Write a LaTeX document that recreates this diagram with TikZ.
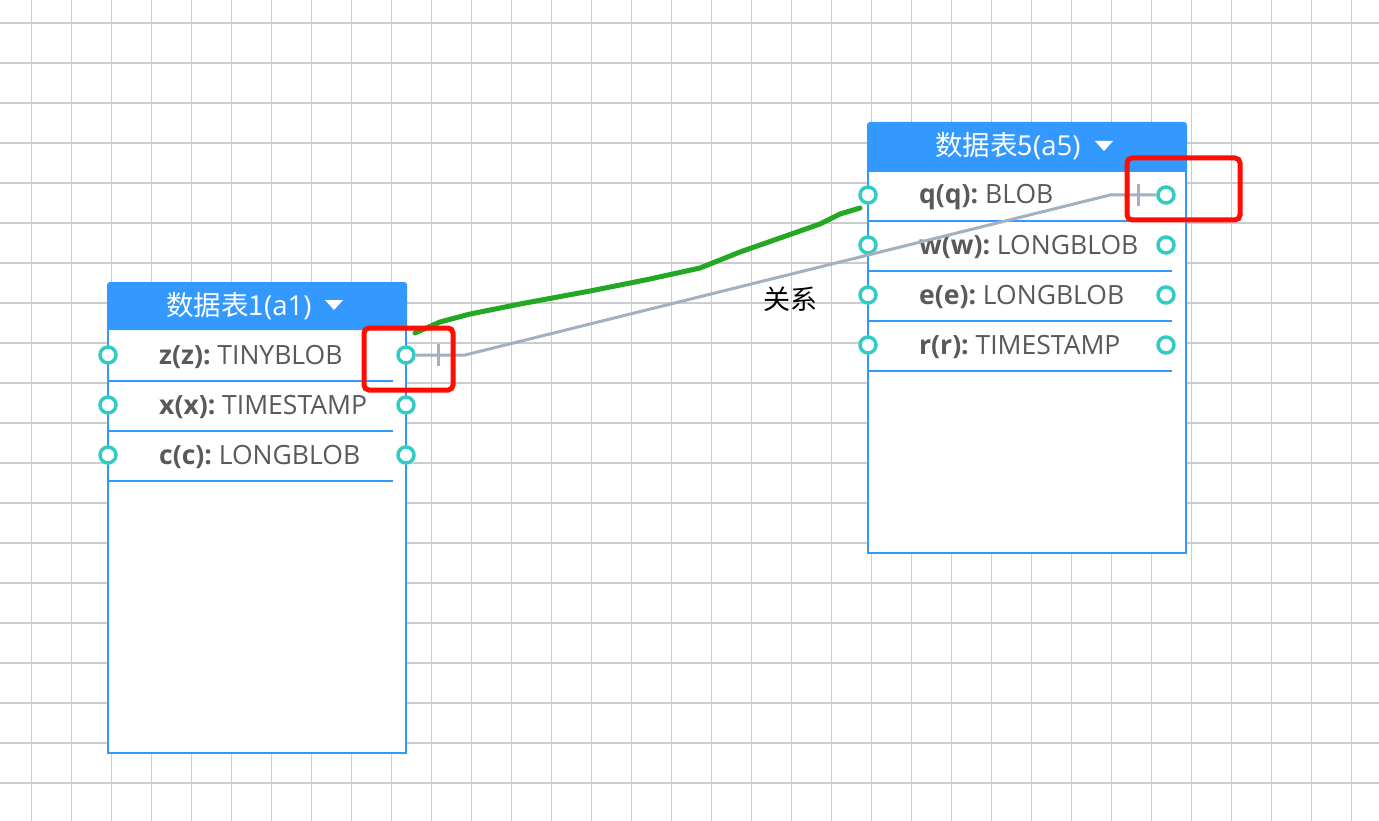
\documentclass[tikz,border=0pt]{standalone}
\usepackage{fontspec}
\setmainfont{Open Sans}
\newfontfamily\cjk{Noto Sans CJK SC}
\begin{document}
\begin{tikzpicture}[x=1pt,y=-1pt,
  fld/.style={anchor=west,inner sep=0pt,font=\fontsize{26.5}{28}\selectfont,text=black!65},
  port/.style={circle,draw=pc,line width=3.5pt,fill=white,minimum size=16pt,inner sep=0pt},
  hdr/.style={text=white,font=\fontsize{27.5}{30}\selectfont,inner sep=0pt},
  sep/.style={draw=hb,line width=1.5pt},
  tbl/.style={draw=hb,line width=1.5pt,fill=white},
  rel/.style={draw=rc,line width=3pt},
  hl/.style={draw=red!90!orange,line width=5pt,rounded corners=5pt}]
\definecolor{hb}{HTML}{3399FF}
\definecolor{pc}{HTML}{33CCC4}
\definecolor{rc}{HTML}{A3B0C2}
\definecolor{gc}{HTML}{22A822}
\useasboundingbox (0,0) rectangle (1379,821);
\fill[white] (0,0) rectangle (1379,821);
\foreach \x in {31.5,71.5,...,1379} \draw[black!20,line width=1.3pt] (\x,0)--(\x,821);
\foreach \y in {23,63,...,821} \draw[black!20,line width=1.3pt] (0,\y)--(1379,\y);
% table 1
\draw[tbl] (108,300) rectangle (406,753);
\fill[hb,rounded corners=3pt] (107,282) rectangle (407,330);
\fill[hb] (107,310) rectangle (407,330);
\node[hdr] (h1) at (239,306) {\cjk 数据表1\rmfamily(a1)};
\fill[white] (325,300)--(343,300)--(334,310)--cycle;
\foreach \y in {381,431,481} \draw[sep] (108,\y)--(393,\y);
\node[fld] (z) at (159,357) {\textbf{z(z):}\ TINYBLOB};
\node[fld] (x) at (159,407) {\textbf{x(x):}\ TIMESTAMP};
\node[fld] (c) at (159,457) {\textbf{c(c):}\ LONGBLOB};
\node[port] (pzl) at (108,355) {}; \node[port] (pzr) at (406,355) {};
\node[port] (pxl) at (108,405) {}; \node[port] (pxr) at (406,405) {};
\node[port] (pcl) at (108,455) {}; \node[port] (pcr) at (406,455) {};
% table 5
\draw[tbl] (868,140) rectangle (1186,553);
\fill[hb,rounded corners=3pt] (867,122) rectangle (1187,172);
\fill[hb] (867,150) rectangle (1187,172);
\node[hdr] (h5) at (1008,146) {\cjk 数据表5\rmfamily(a5)};
\fill[white] (1095,141)--(1113,141)--(1104,151)--cycle;
\foreach \y in {221,271,321,371} \draw[sep] (868,\y)--(1172,\y);
\node[fld] (q) at (919,197) {\textbf{q(q):}\ BLOB};
\node[fld] (w) at (919,247) {\textbf{w(w):}\ LONGBLOB};
\node[fld] (e) at (919,297) {\textbf{e(e):}\ LONGBLOB};
\node[fld] (r) at (919,347) {\textbf{r(r):}\ TIMESTAMP};
\node[port] (pql) at (868,195) {}; \node[port] (pqr) at (1166,195) {};
\node[port] (pwl) at (868,245) {}; \node[port] (pwr) at (1166,245) {};
\node[port] (pel) at (868,295) {}; \node[port] (per) at (1166,295) {};
\node[port] (prl) at (868,345) {}; \node[port] (prr) at (1166,345) {};
% relation
\coordinate (a1) at (465,355); \coordinate (a2) at (1110,195);
\draw[rel] (pzr.east) -- (a1) -- (a2) -- (pqr.west);
\draw[rel] (438,344)--(438,366);
\draw[rel] (1138,184)--(1138,206);
\node[font=\cjk\fontsize{27}{29}\selectfont] (lbl) at (790,299) {关系};
% green stroke
\coordinate (g0) at (415,333); \coordinate (g1) at (860,208);
\draw[gc,line width=5pt,line cap=round,line join=round] (g0) -- (440,322) -- (470,314) -- (520,304) -- (590,291) -- (650,279) -- (700,268) -- (740,252) -- (780,238) -- (820,224) -- (840,214) -- (g1);
% red boxes
\draw[hl] (364,328) rectangle (453,390);
\draw[hl] (1127,158) rectangle (1240,220);
\end{tikzpicture}
\end{document}
